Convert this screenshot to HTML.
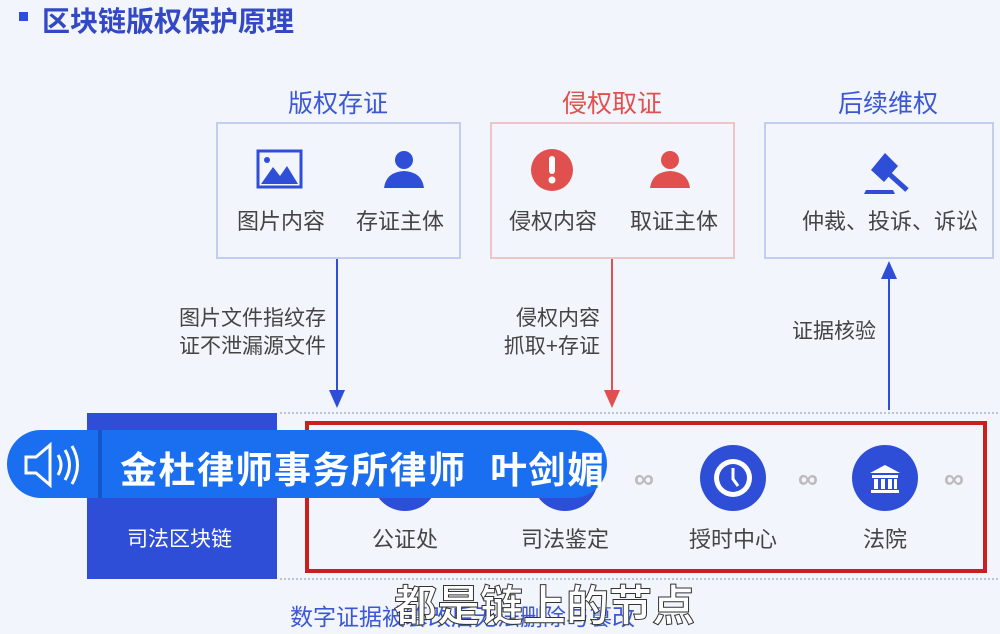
<!DOCTYPE html>
<html><head><meta charset="utf-8"><style>
*{margin:0;padding:0;box-sizing:border-box}
body{width:1000px;height:623px;overflow:hidden;background:#f2f5fb;position:relative;font-family:"Liberation Sans","Noto Sans CJK SC",sans-serif}
.a{position:absolute;white-space:nowrap}
.box{position:absolute;border:2px solid #c3cdf0;}
.t{font-size:22px;color:#444}
.lbl{font-size:21px;color:#444;text-align:right;line-height:28px}
.cir{position:absolute;width:66px;height:66px;border-radius:50%;background:#2f4ed8}
.node{font-size:22px;color:#444;text-align:center;width:120px}
.link{position:absolute;font-size:28px;color:#bbb;font-weight:bold}
</style></head><body>
<div class="a" style="left:19px;top:12px;width:9px;height:9px;background:#2f4ed8"></div>
<div class="a" style="left:42px;top:0px;font-size:28px;color:#3348c4;font-weight:bold">区块链版权保护原理</div>

<div class="a" style="left:288px;top:84px;font-size:25px;color:#3b57d6">版权存证</div>
<div class="a" style="left:562px;top:84px;font-size:25px;color:#e0504e">侵权取证</div>
<div class="a" style="left:838px;top:84px;font-size:25px;color:#3b57d6">后续维权</div>

<div class="box" style="left:216px;top:122px;width:245px;height:137px"></div>
<div class="box" style="left:490px;top:122px;width:245px;height:137px;border-color:#f0c4c4"></div>
<div class="box" style="left:764px;top:122px;width:230px;height:137px"></div>

<svg class="a" style="left:0;top:0" width="1000" height="623">
<rect x="258" y="151" width="43" height="36" fill="none" stroke="#2f4ed8" stroke-width="3"/>
<circle cx="267" cy="160" r="3" fill="#2f4ed8"/>
<polygon points="261,184 273,167 280,176 287,166 298,184" fill="#2f4ed8"/>
<circle cx="404" cy="160" r="9" fill="#2f4ed8"/><path d="M384 188 Q386 172 404 171 Q422 172 424 188Z" fill="#2f4ed8"/>
<circle cx="552" cy="170" r="21" fill="#e0504e"/><rect x="549" y="156" width="6" height="18" rx="3" fill="#fff"/><circle cx="552" cy="180" r="3.5" fill="#fff"/>
<circle cx="670" cy="160" r="9" fill="#e0504e"/><path d="M650 188 Q652 172 670 171 Q688 172 690 188Z" fill="#e0504e"/>
<polygon points="871,170 885,153 898,166 884,182" fill="#2f4ed8"/><line x1="888" y1="173" x2="907" y2="190" stroke="#2f4ed8" stroke-width="5"/>
<polygon points="866,190 893,190 895,194 864,194" fill="#2f4ed8"/>
<line x1="337" y1="259" x2="337" y2="392" stroke="#2f4ed8" stroke-width="2"/><polygon points="329,390 345,390 337,408" fill="#2f4ed8"/>
<line x1="612" y1="259" x2="612" y2="392" stroke="#e0504e" stroke-width="2"/><polygon points="604,390 620,390 612,408" fill="#e0504e"/>
<line x1="889" y1="275" x2="889" y2="410" stroke="#2f4ed8" stroke-width="2"/><polygon points="881,279 897,279 889,261" fill="#2f4ed8"/>
<line x1="280" y1="413" x2="1000" y2="413" stroke="#b8c2dc" stroke-width="2" stroke-dasharray="2,2"/>
<line x1="280" y1="579" x2="1000" y2="579" stroke="#b8c2dc" stroke-width="2" stroke-dasharray="2,2"/>
</svg>

<div class="a t" style="left:237px;top:204px">图片内容</div>
<div class="a t" style="left:356px;top:204px">存证主体</div>
<div class="a t" style="left:509px;top:204px">侵权内容</div>
<div class="a t" style="left:630px;top:204px">取证主体</div>
<div class="a t" style="left:802px;top:204px">仲裁、投诉、诉讼</div>

<div class="a lbl" style="right:674px;top:305px">图片文件指纹存<br>证不泄漏源文件</div>
<div class="a lbl" style="right:400px;top:305px">侵权内容<br>抓取+存证</div>
<div class="a lbl" style="right:124px;top:318px">证据核验</div>

<div class="a" style="left:87px;top:413px;width:190px;height:166px;background:#2f4ed8"></div>
<div class="a" style="left:127px;top:523px;font-size:21px;color:#fff">司法区块链</div>

<div class="a" style="left:305px;top:421px;width:682px;height:152px;border:4px solid #c8201c"></div>
<div class="cir" style="left:372px;top:445px"></div>
<div class="cir" style="left:532px;top:445px"></div>
<div class="cir" style="left:700px;top:445px"></div>
<div class="cir" style="left:852px;top:445px"></div>
<svg class="a" style="left:700px;top:445px" width="66" height="66"><circle cx="33" cy="33" r="19" fill="#fff"/><circle cx="33" cy="33" r="14" fill="#2f4ed8"/><path d="M33 23 V34 L38 41" stroke="#fff" stroke-width="3" fill="none"/></svg>
<svg class="a" style="left:852px;top:445px" width="66" height="66"><polygon points="33,20 48,28 18,28" fill="#fff"/><rect x="20" y="30" width="26" height="3" fill="#fff"/><rect x="22" y="34" width="4" height="10" fill="#fff"/><rect x="29" y="34" width="4" height="10" fill="#fff"/><rect x="36" y="34" width="4" height="10" fill="#fff"/><rect x="42" y="34" width="3" height="10" fill="#fff"/><rect x="19" y="45" width="28" height="3" fill="#fff"/></svg>
<div class="link" style="left:634px;top:463px">∞</div>
<div class="link" style="left:798px;top:463px">∞</div>
<div class="link" style="left:944px;top:463px">∞</div>
<div class="a node" style="left:345px;top:522px">公证处</div>
<div class="a node" style="left:505px;top:522px">司法鉴定</div>
<div class="a node" style="left:673px;top:522px">授时中心</div>
<div class="a node" style="left:825px;top:522px">法院</div>

<div class="a" style="left:290px;top:598px;font-size:23px;color:#3b57d6">数字证据被篡改后无法删除与篡改</div>

<div class="a" style="left:7px;top:430px;width:600px;height:68px;border-radius:34px;background:#1a6ff0"></div>
<div class="a" style="left:98px;top:430px;width:4px;height:68px;background:#1456c8"></div>
<svg class="a" style="left:20px;top:440px" width="70" height="50"><path d="M6 17 H16 L30 5 V45 L16 33 H6Z" fill="none" stroke="#fff" stroke-width="3"/><path d="M38 15 Q44 25 38 35 M45 10 Q54 25 45 40 M52 6 Q63 25 52 44" fill="none" stroke="#fff" stroke-width="3"/></svg>
<div class="a" style="left:120px;top:440px;font-size:37px;font-weight:bold;color:#fff;letter-spacing:1.5px">金杜律师事务所律师&nbsp; 叶剑媚</div>

<div class="a" style="left:394px;top:572px;font-size:43px;font-weight:bold;color:#fff;-webkit-text-stroke:1px #333">都是链上的节点</div>
</body></html>
